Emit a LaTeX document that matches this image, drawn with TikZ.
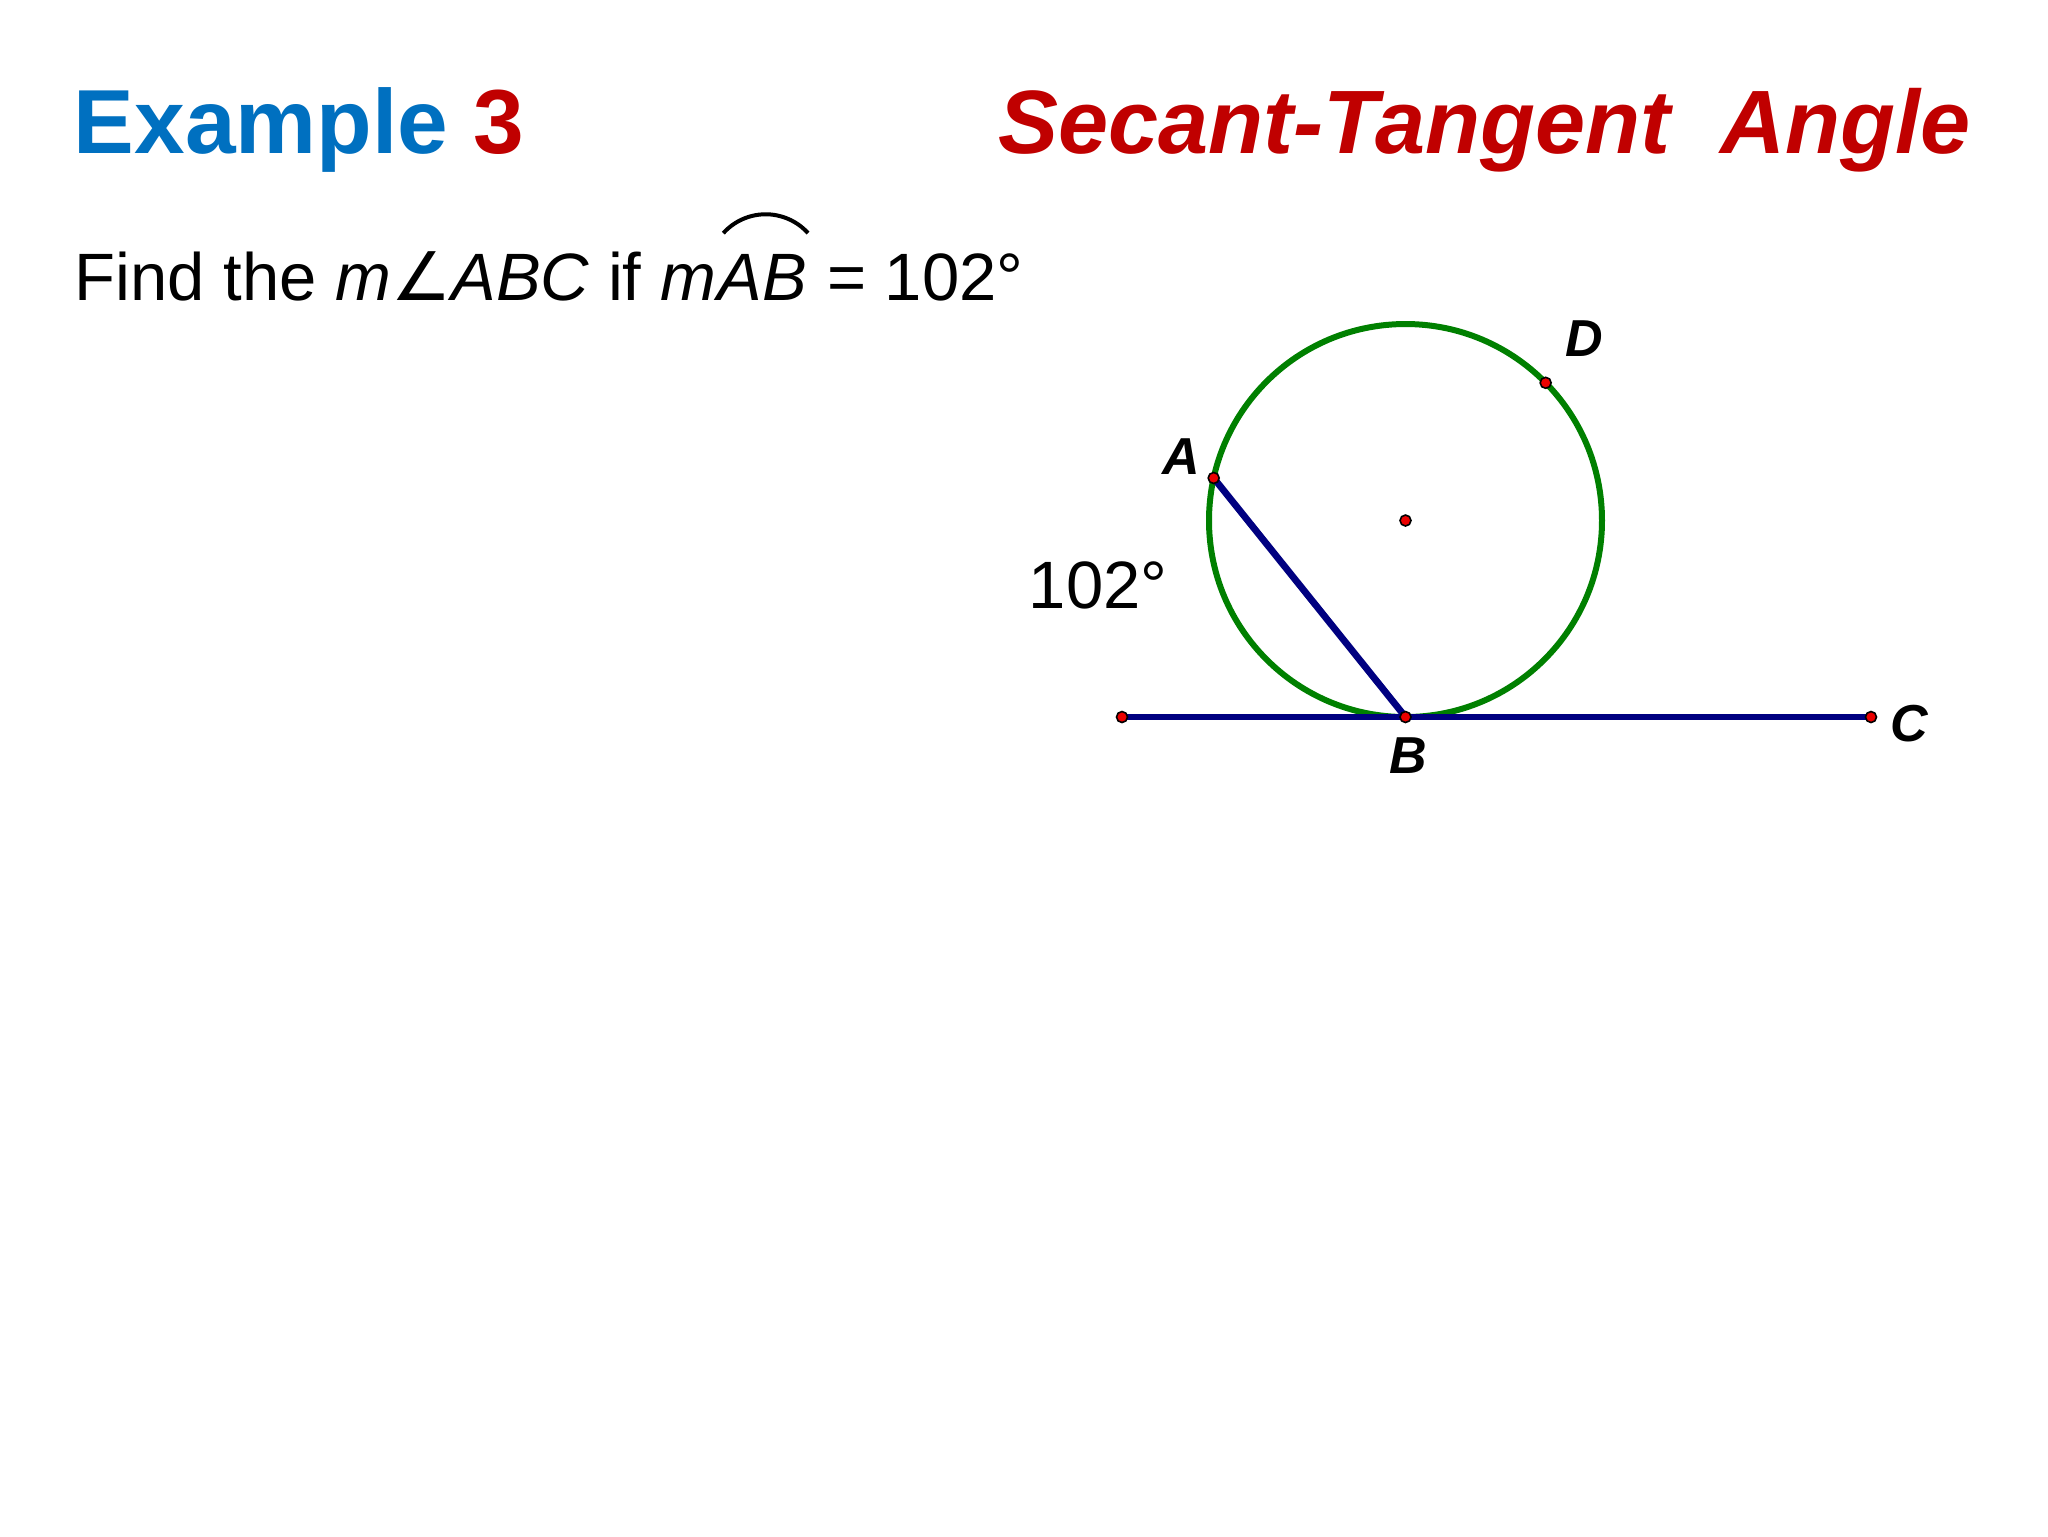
\documentclass[tikz,border=0pt]{standalone}
\usepackage{fontspec}
\setmainfont{Liberation Sans}
\newfontfamily\djv{DejaVu Sans}
\usetikzlibrary{calc}
\definecolor{tblue}{RGB}{0,112,192}
\definecolor{tred}{RGB}{192,0,0}
\definecolor{cgreen}{RGB}{0,128,0}
\definecolor{navyline}{RGB}{0,0,128}
\definecolor{ptred}{RGB}{235,0,0}
\begin{document}
\begin{tikzpicture}[x=0.25pt,y=-0.25pt,
  titletext/.style={inner sep=0pt, anchor=base west, font=\fontsize{22.75pt}{27pt}\selectfont\bfseries},
  qtext/.style={inner sep=0pt, anchor=base west, font=\fontsize{16.75pt}{20pt}\selectfont},
  lbl/.style={inner sep=0pt, font=\fontsize{13pt}{15pt}\selectfont\bfseries\itshape},
  circline/.style={draw=cgreen, line width=1.5pt},
  segline/.style={draw=navyline, line width=1.7pt},
  arcline/.style={draw=black, line width=1pt},
  ptdot/.style={circle, fill=ptred, draw=black, line width=0.4pt, inner sep=0pt, minimum size=2.75pt}]
\useasboundingbox (0,0) rectangle (2048,1536);
\fill[white] (0,0) rectangle (2048,1536);

% titles
\node[titletext, text=tblue] (ex) at (73,153) {Example \textcolor{tred}{3}};
\node[titletext, anchor=base east, text=tred, font=\fontsize{22.5pt}{27pt}\selectfont\bfseries\itshape] (st) at (1971,153) {Secant-Tangent~~Angle};

% question
\node[qtext] (q1) at (74,300) {Find the \textit{m}{\djv ∠}\textit{ABC} if \textit{m}};
\node[qtext] (q2) at (q1.base east) {\textit{AB}};
\node[qtext] (q3) at (q2.base east) {\ = 102°};
\draw[arcline] ($(q2.north)+(-39,-20)$) arc[start angle=-138, end angle=-42, radius=57];

% geometry
\coordinate (O) at (1405.5,520.5);
\coordinate (A) at ($(O)+(192.5:196.5)$);
\coordinate (B) at ($(O)+(90:196.5)$);
\coordinate (D) at ($(O)+(315.5:196.5)$);
\coordinate (L) at (1122,717);
\coordinate (C) at (1871,717);

\draw[circline] (O) circle[radius=196.5];
\draw[segline] (L) -- (C);
\draw[segline] (A) -- (B);

\foreach \p in {O,A,B,D,L,C} \node[ptdot] at (\p) {};

\node[lbl] (lA) at (1181,457) {A};
\node[lbl] (lB) at (1408,756) {B};
\node[lbl] (lC) at (1909,724) {C};
\node[lbl] (lD) at (1584,339) {D};
\node[qtext] (deg) at (1028,608) {102°};
\end{tikzpicture}
\end{document}
